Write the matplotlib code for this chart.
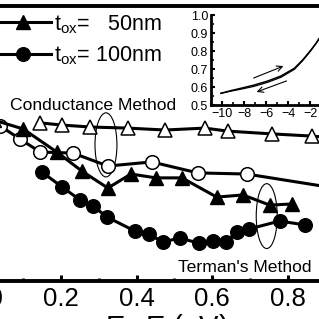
import matplotlib.pyplot as plt
from matplotlib.patches import Ellipse

plt.rcParams['font.family'] = ['Liberation Sans', 'DejaVu Sans']
plt.rcParams['mathtext.fontset'] = 'custom'
plt.rcParams['mathtext.rm'] = 'Liberation Sans'
plt.rcParams['mathtext.it'] = 'Liberation Sans:italic'

# main panel: Ec-E (eV) vs trap density (y axis is cropped away -> arbitrary units)
cond_e = [0.145, 0.203, 0.277, 0.377, 0.475, 0.580, 0.641, 0.757, 0.863, 0.924]
cond_d = [0.575, 0.567, 0.560, 0.556, 0.549, 0.556, 0.545, 0.535, 0.527, 0.520]

t50_e = [0.023, 0.100, 0.189, 0.255, 0.324, 0.385, 0.451, 0.520, 0.612, 0.681, 0.752, 0.810]
t50_d = [0.585, 0.553, 0.469, 0.400, 0.338, 0.389, 0.375, 0.375, 0.305, 0.313, 0.276, 0.280]

open_e = [0.039, 0.092, 0.145, 0.232, 0.324, 0.440, 0.562, 0.691, 0.924]
open_d = [0.564, 0.516, 0.469, 0.465, 0.418, 0.433, 0.393, 0.389, 0.338]

t100_e = [0.150, 0.203, 0.250, 0.285, 0.321, 0.395, 0.432, 0.469, 0.514, 0.564,
          0.602, 0.636, 0.665, 0.697, 0.778, 0.845]
t100_d = [0.396, 0.342, 0.295, 0.273, 0.233, 0.182, 0.171, 0.142, 0.156, 0.138,
          0.145, 0.142, 0.178, 0.189, 0.218, 0.204]

xticks = [0.0, 0.2, 0.4, 0.6, 0.8]
xticklabels = ['0.0', '0.2', '0.4', '0.6', '0.8']

# inset: C-V type sweep
in_v = [-10.09, -9.18, -8.27, -7.06, -5.85, -4.64, -3.42, -2.67, -1.91, -1.45, -1.15]
in_up = [0.565, 0.580, 0.593, 0.611, 0.633, 0.661, 0.704, 0.750, 0.806, 0.843, 0.871]
in_dn = [0.565, 0.577, 0.588, 0.604, 0.626, 0.654, 0.698, 0.746, 0.803, 0.842, 0.871]

fig = plt.figure(figsize=(3.19, 3.19), dpi=100)
ax = fig.add_axes([-14.7/319, 38/319, 348/319, 275/319])
ax.set_xlim(0, 0.92)
ax.set_ylim(0, 1)

lw = 2.2
ms = 9.8
ax.plot(cond_e, cond_d, '-', color='black', lw=lw, marker='^', ms=ms,
        mfc='white', mec='black', mew=1.1)
ax.plot(open_e, open_d, '-', color='black', lw=lw, marker='o', ms=ms,
        mfc='white', mec='black', mew=1.1)
l50, = ax.plot(t50_e, t50_d, '-', color='black', lw=lw, marker='^', ms=ms)
l100, = ax.plot(t100_e, t100_d, '-', color='black', lw=lw, marker='o', ms=ms)

ax.add_patch(Ellipse((0.319, 0.495), 0.058, 0.233, fill=False, lw=0.8, ec='black'))
ax.add_patch(Ellipse((0.744, 0.236), 0.0555, 0.236, fill=False, lw=0.8, ec='black'))

ax.text(0.286, 0.638, 'Conductance Method', fontsize=12.6, ha='center', va='center')
ax.text(0.686, 0.049, "Terman's Method", fontsize=12.6, ha='center', va='center')

ax.set_xticks(xticks, xticklabels)
ax.set_xticks([0.1, 0.3, 0.5, 0.7, 0.9], minor=True)
ax.set_yticks([])
ax.tick_params(axis='x', which='major', direction='in', length=4, width=2.2,
               labelsize=18.5, pad=4)
ax.tick_params(axis='x', which='minor', direction='in', length=2.5, width=2)
for s in ax.spines.values():
    s.set_linewidth(2.8)
ax.set_xlabel(r'E$_\mathrm{c}$-E (eV)', fontsize=21)
ax.xaxis.set_label_coords(0.522, -0.113)

ax.legend([l50, l100], [r't$_\mathrm{ox}$=   50nm', r't$_\mathrm{ox}$= 100nm'],
          loc='upper left', bbox_to_anchor=(-6/319, 306/319),
          bbox_transform=fig.transFigure, frameon=False, fontsize=15.5,
          handlelength=2.65, handletextpad=0.15, labelspacing=0.4,
          borderpad=0, borderaxespad=0, numpoints=1)

# inset
axi = fig.add_axes([211/319, 214/319, 121/319, 90/319])
axi.plot(in_v, in_up, color='black', lw=1.1)
axi.plot(in_v, in_dn, color='black', lw=0.9)
axi.annotate('', xy=(-4.18, 0.722), xytext=(-7.36, 0.644),
             arrowprops=dict(arrowstyle='->', lw=0.8, color='black'))
axi.annotate('', xy=(-7.09, 0.567), xytext=(-3.9, 0.639),
             arrowprops=dict(arrowstyle='->', lw=0.8, color='black'))
axi.set_xlim(-11, 0)
axi.set_ylim(0.5, 1.0)
axi.set_xticks([-10, -8, -6, -4, -2])
axi.set_xticks([-11, -9, -7, -5, -3, -1], minor=True)
axi.set_yticks([0.5, 0.6, 0.7, 0.8, 0.9, 1.0], ['0.5', '0.6', '0.7', '0.8', '0.9', '1.0'])
axi.set_yticks([0.55, 0.65, 0.75, 0.85, 0.95], minor=True)
axi.tick_params(which='major', direction='in', length=3, width=1.5, labelsize=9, pad=2)
axi.tick_params(which='minor', direction='in', length=2, width=1.2)
axi.spines['top'].set_visible(False)
for s in ['left', 'bottom', 'right']:
    axi.spines[s].set_linewidth(2)

fig.savefig('out.png', dpi=100)
